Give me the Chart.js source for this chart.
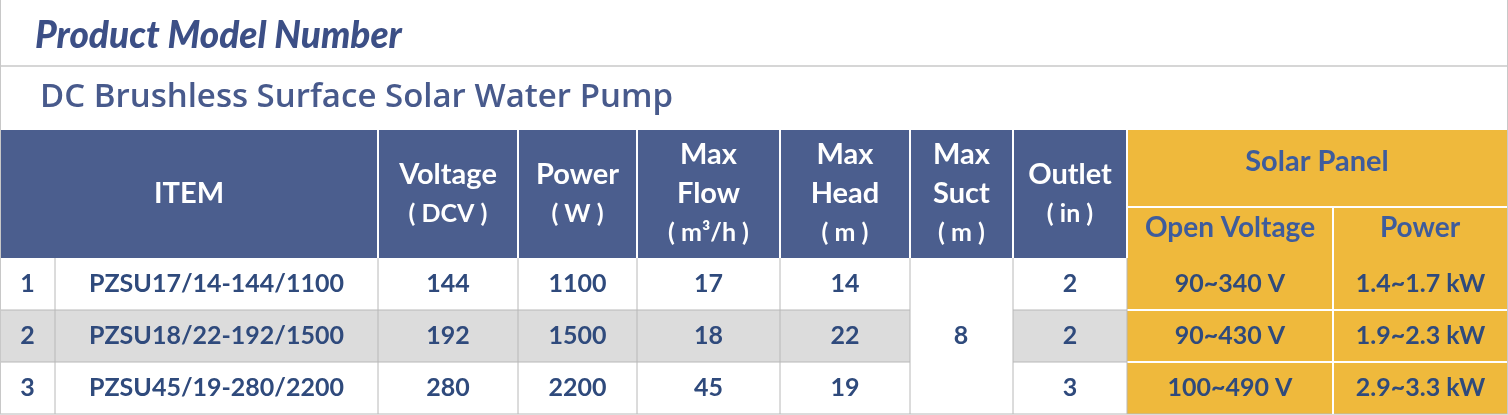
<!DOCTYPE html><html><head><meta charset="utf-8">
<script src="https://cdn.jsdelivr.net/npm/chart.js@4"></script>
<style>html,body{margin:0;padding:0;background:#fff}#w{width:1508px;height:415px}</style></head><body>
<div id="w"><canvas id="c"></canvas></div>
<script>
const title = "Product Model Number";
const subtitle = "DC Brushless Surface Solar Water Pump";
const headers = [["ITEM"],["Voltage","( DCV )"],["Power","( W )"],["Max","Flow","( m³/h )"],["Max","Head","( m )"],["Max","Suct","( m )"],["Outlet","( in )"]];
const solarHeader = "Solar Panel";
const solarSub = ["Open Voltage","Power"];
const rowNo = ["1","2","3"];
const models = ["PZSU17/14-144/1100","PZSU18/22-192/1500","PZSU45/19-280/2200"];
const voltage = ["144","192","280"];
const power = ["1100","1500","2200"];
const maxFlow = ["17","18","45"];
const maxHead = ["14","22","19"];
const maxSuct = "8";
const outlet = ["2","2","3"];
const openVoltage = ["90~340 V","90~430 V","100~490 V"];
const panelPower = ["1.4~1.7 kW","1.9~2.3 kW","2.9~3.3 kW"];

// layout (not data)
const colX = [0,55,378,518,637,780,910,1013,1127,1333,1508];
const rowY = {t0:0,t1:66,s1:130,hm:207,h1:258,r:[258,310,362,414]};
const BLUE="#4b5e8e", YEL="#efb93c", TXT="#2f4a7c", GRAY="#dcdcdc";

const tablePlugin = {id:'table', afterDraw(chart){
  const ctx=chart.ctx, sx=chart.scales.x, sy=chart.scales.y;
  const X=v=>sx.getPixelForValue(v), Y=v=>sy.getPixelForValue(v);
  const rect=(x0,y0,x1,y1,c)=>{ctx.fillStyle=c;ctx.fillRect(X(x0),Y(y0),X(x1)-X(x0),Y(y1)-Y(y0));};
  const line=(x0,y0,x1,y1,c,w)=>{ctx.strokeStyle=c;ctx.lineWidth=w||1;ctx.beginPath();ctx.moveTo(X(x0),Y(y0));ctx.lineTo(X(x1),Y(y1));ctx.stroke();};
  const text=(s,x,y,font,c,al)=>{ctx.font=font;ctx.fillStyle=c;ctx.textAlign=al||'center';ctx.textBaseline='middle';ctx.fillText(s,X(x),Y(y));};
  ctx.save();
  text(title,35,36,"italic 900 37px Lato",'#3c4f86','left');
  line(0,rowY.t1,1508,rowY.t1,'#c8c8c8',1.5);
  text(subtitle,40,98,"600 33px 'Open Sans'",'#485a8c','left');
  rect(0,rowY.s1,1127,rowY.h1,BLUE);
  rect(1127,rowY.s1,1508,414,YEL);
  const hx=[[0,378],[378,518],[518,637],[637,780],[780,910],[910,1013],[1013,1127]];
  headers.forEach((h,i)=>{const cx=(hx[i][0]+hx[i][1])/2, mid=194, lh=39;
    h.forEach((s,j)=>{const y=mid+(j-(h.length-1)/2)*lh;
      text(s,cx,y, s.startsWith('(')?"bold 25px Lato":"bold 29px Lato",'#fff');});});
  text(solarHeader,1317,162,"bold 29px Lato",'#3e5c9c');
  text(solarSub[0],1230,228,"bold 28px Lato",'#3e5c9c');
  text(solarSub[1],1420,228,"bold 28px Lato",'#3e5c9c');
  const r=rowY.r;
  rect(0,r[1],910,r[2],GRAY); rect(1013,r[1],1127,r[2],GRAY);
  const cols=[rowNo,models,voltage,power,maxFlow,maxHead,null,outlet,openVoltage,panelPower];
  for(let i=0;i<3;i++){const cy=(r[i]+r[i+1])/2;
    cols.forEach((a,k)=>{if(!a)return;text(a[i],(colX[k]+colX[k+1])/2,cy,"bold 25px Lato",TXT);});}
  text(maxSuct,961,336,"bold 25px Lato",TXT);
  [r[1],r[2]].forEach(y=>{line(0,y,910,y,'#b8b8b8');line(1127,y,1508,y,'#fff',2);line(1013,y,1127,y,'#b8b8b8');});
  line(0,414,1508,414,'#b8b8b8');
  colX.slice(1,-1).forEach(x=>{
    if(x!==55 && x!==1333) line(x,rowY.s1,x,r[0],'#fff',2);
    if(x===1333) line(x,rowY.hm,x,r[0],'#fff',2);
    line(x,r[0],x,414,x>=1333?'#fff':'#b8b8b8',x>=1333?2:1);});
  line(1127,rowY.hm,1508,rowY.hm,'#fff',2);
  line(0.5,0,0.5,414,'#c8c8c8');line(1507.5,0,1507.5,414,'#c8c8c8');
  ctx.restore();
}};
new Chart(document.getElementById('c'),{type:'scatter',data:{datasets:[]},
  options:{responsive:true,maintainAspectRatio:false,animation:false,layout:{padding:0},
    plugins:{legend:{display:false},tooltip:{enabled:false}},
    scales:{x:{type:'linear',min:0,max:1508,display:false,offset:false},y:{type:'linear',min:0,max:415,reverse:true,display:false,offset:false}}},
  plugins:[tablePlugin]});
</script></body></html>
